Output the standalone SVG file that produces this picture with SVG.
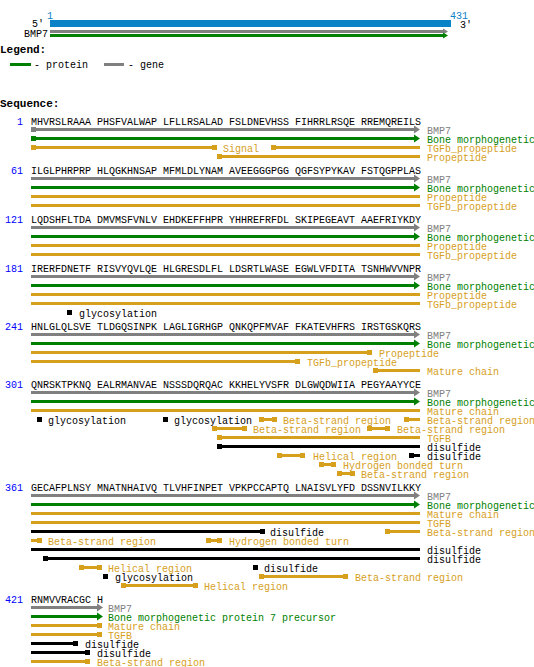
<svg xmlns="http://www.w3.org/2000/svg" xmlns:xlink="http://www.w3.org/1999/xlink" width="534" height="667" viewBox="0 0 534 667">
<style>
text{font-family:"Liberation Mono","DejaVu Sans Mono",monospace;font-size:10px}
.b{font-weight:bold;font-size:11px}
.num{fill:#0000ff;text-anchor:end}
.cg{fill:#808080}
.cgr{fill:#008000}
.co{fill:#d6a01c}
.ck{fill:#000}
.cb{fill:#0a82c8}
</style>
<defs>
<rect id="sq" x="0" y="-2.5" width="5" height="5"/>
<path id="arr" d="M0,-4L6,0L0,4Z"/>
<path id="arrs" d="M0,-3L5,0L0,3Z"/>
</defs>
<rect width="534" height="667" fill="#fff"/>

<g id="overview">
<rect class="cb" x="50" y="20" width="401" height="7"/>
<text class="cb" x="47" y="19">1</text>
<text class="cb" x="450" y="19">431</text>
<text x="44" y="27" text-anchor="end">5′</text>
<text x="460" y="28">3′</text>
<text x="48" y="37" text-anchor="end">BMP7</text>
<rect class="cg" x="50" y="30" width="393" height="3"/>
<use href="#arrs" x="443" y="31.5" class="cg"/>
<rect class="cgr" x="50" y="34" width="393" height="3"/>
<use href="#arrs" x="443" y="35.5" class="cgr"/>
</g>

<g id="legend">
<text class="b" x="0" y="53">Legend:</text>
<rect class="cgr" x="10" y="63" width="21" height="3"/>
<text x="34" y="68">- protein</text>
<rect class="cg" x="104" y="63" width="20" height="3"/>
<text x="128" y="68">- gene</text>
<text class="b" x="0" y="107">Sequence:</text>
</g>

<g id="block-1" transform="translate(0,129.5)">
<text class="num" x="23" y="-5">1</text>
<text x="31" y="-5">MHVRSLRAAA PHSFVALWAP LFLLRSALAD FSLDNEVHSS FIHRRLRSQE RREMQREILS</text>
<rect class="cg" x="31" y="-1.5" width="383" height="3"/><use href="#sq" x="31" class="cg"/><use href="#arr" x="414" class="cg"/>
<text class="cg" x="427" y="4">BMP7</text>
<g transform="translate(0,9)"><rect class="cgr" x="31" y="-1.5" width="383" height="3"/><use href="#sq" x="31" class="cgr"/><use href="#arr" x="414" class="cgr"/>
<text class="cgr" x="427" y="4">Bone morphogenetic</text></g>
<g transform="translate(0,18)"><rect class="co" x="31" y="-1.5" width="184" height="3"/><use href="#sq" x="31" class="co"/><use href="#sq" x="212" class="co"/>
<text class="co" x="223" y="4">Signal</text>
<rect class="co" x="273" y="-1.5" width="147" height="3"/><use href="#sq" x="271" class="co"/>
<text class="co" x="427" y="4">TGFb_propeptide</text></g>
<g transform="translate(0,27)"><rect class="co" x="219" y="-1.5" width="201" height="3"/><use href="#sq" x="217" class="co"/>
<text class="co" x="427" y="4">Propeptide</text></g>
</g>

<g id="block-61" transform="translate(0,178.5)">
<text class="num" x="23" y="-5">61</text>
<text x="31" y="-5">ILGLPHRPRP HLQGKHNSAP MFMLDLYNAM AVEEGGGPGG QGFSYPYKAV FSTQGPPLAS</text>
<rect class="cg" x="31" y="-1.5" width="383" height="3"/><use href="#arr" x="414" class="cg"/>
<text class="cg" x="427" y="4">BMP7</text>
<g transform="translate(0,9)"><rect class="cgr" x="31" y="-1.5" width="383" height="3"/><use href="#arr" x="414" class="cgr"/>
<text class="cgr" x="427" y="4">Bone morphogenetic</text></g>
<g transform="translate(0,18)"><rect class="co" x="31" y="-1.5" width="389" height="3"/><text class="co" x="427" y="4">Propeptide</text></g>
<g transform="translate(0,27)"><rect class="co" x="31" y="-1.5" width="389" height="3"/><text class="co" x="427" y="4">TGFb_propeptide</text></g>
</g>

<g id="block-121" transform="translate(0,227.5)">
<text class="num" x="23" y="-5">121</text>
<text x="31" y="-5">LQDSHFLTDA DMVMSFVNLV EHDKEFFHPR YHHREFRFDL SKIPEGEAVT AAEFRIYKDY</text>
<rect class="cg" x="31" y="-1.5" width="383" height="3"/><use href="#arr" x="414" class="cg"/>
<text class="cg" x="427" y="4">BMP7</text>
<g transform="translate(0,9)"><rect class="cgr" x="31" y="-1.5" width="383" height="3"/><use href="#arr" x="414" class="cgr"/>
<text class="cgr" x="427" y="4">Bone morphogenetic</text></g>
<g transform="translate(0,18)"><rect class="co" x="31" y="-1.5" width="389" height="3"/><text class="co" x="427" y="4">Propeptide</text></g>
<g transform="translate(0,27)"><rect class="co" x="31" y="-1.5" width="389" height="3"/><text class="co" x="427" y="4">TGFb_propeptide</text></g>
</g>

<g id="block-181" transform="translate(0,276.5)">
<text class="num" x="23" y="-5">181</text>
<text x="31" y="-5">IRERFDNETF RISVYQVLQE HLGRESDLFL LDSRTLWASE EGWLVFDITA TSNHWVVNPR</text>
<rect class="cg" x="31" y="-1.5" width="383" height="3"/><use href="#arr" x="414" class="cg"/>
<text class="cg" x="427" y="4">BMP7</text>
<g transform="translate(0,9)"><rect class="cgr" x="31" y="-1.5" width="383" height="3"/><use href="#arr" x="414" class="cgr"/>
<text class="cgr" x="427" y="4">Bone morphogenetic</text></g>
<g transform="translate(0,18)"><rect class="co" x="31" y="-1.5" width="389" height="3"/><text class="co" x="427" y="4">Propeptide</text></g>
<g transform="translate(0,27)"><rect class="co" x="31" y="-1.5" width="389" height="3"/><text class="co" x="427" y="4">TGFb_propeptide</text></g>
<g transform="translate(0,36)"><use href="#sq" x="67" class="ck"/><text x="79" y="4">glycosylation</text></g>
</g>

<g id="block-241" transform="translate(0,334.5)">
<text class="num" x="23" y="-5">241</text>
<text x="31" y="-5">HNLGLQLSVE TLDGQSINPK LAGLIGRHGP QNKQPFMVAF FKATEVHFRS IRSTGSKQRS</text>
<rect class="cg" x="31" y="-1.5" width="383" height="3"/><use href="#arr" x="414" class="cg"/>
<text class="cg" x="427" y="4">BMP7</text>
<g transform="translate(0,9)"><rect class="cgr" x="31" y="-1.5" width="383" height="3"/><use href="#arr" x="414" class="cgr"/>
<text class="cgr" x="427" y="4">Bone morphogenetic</text></g>
<g transform="translate(0,18)"><rect class="co" x="31" y="-1.5" width="339" height="3"/><use href="#sq" x="367" class="co"/><text class="co" x="379" y="4">Propeptide</text></g>
<g transform="translate(0,27)"><rect class="co" x="31" y="-1.5" width="267" height="3"/><use href="#sq" x="295" class="co"/><text class="co" x="307" y="4">TGFb_propeptide</text></g>
<g transform="translate(0,36)"><rect class="co" x="375" y="-1.5" width="45" height="3"/><use href="#sq" x="373" class="co"/><text class="co" x="427" y="4">Mature chain</text></g>
</g>

<g id="block-301" transform="translate(0,392.5)">
<text class="num" x="23" y="-5">301</text>
<text x="31" y="-5">QNRSKTPKNQ EALRMANVAE NSSSDQRQAC KKHELYVSFR DLGWQDWIIA PEGYAAYYCE</text>
<rect class="cg" x="31" y="-1.5" width="383" height="3"/><use href="#arr" x="414" class="cg"/>
<text class="cg" x="427" y="4">BMP7</text>
<g transform="translate(0,9)"><rect class="cgr" x="31" y="-1.5" width="383" height="3"/><use href="#arr" x="414" class="cgr"/>
<text class="cgr" x="427" y="4">Bone morphogenetic</text></g>
<g transform="translate(0,18)"><rect class="co" x="31" y="-1.5" width="389" height="3"/><text class="co" x="427" y="4">Mature chain</text></g>
<g transform="translate(0,27)">
<use href="#sq" x="37" class="ck"/><text x="48" y="4">glycosylation</text>
<use href="#sq" x="163" class="ck"/><text x="174" y="4">glycosylation</text>
<rect class="co" x="261" y="-1.5" width="13" height="3"/><use href="#sq" x="259" class="co"/><use href="#sq" x="272" class="co"/><text class="co" x="283" y="4">Beta-strand region</text>
<rect class="co" x="406" y="-1.5" width="14" height="3"/><use href="#sq" x="404" class="co"/><text class="co" x="427" y="4">Beta-strand region</text>
</g>
<g transform="translate(0,36)">
<rect class="co" x="214" y="-1.5" width="30" height="3"/><use href="#sq" x="212" class="co"/><use href="#sq" x="242" class="co"/><text class="co" x="253" y="4">Beta-strand region</text>
<rect class="co" x="369" y="-1.5" width="18" height="3"/><use href="#sq" x="367" class="co"/><use href="#sq" x="385" class="co"/><text class="co" x="397" y="4">Beta-strand region</text>
</g>
<g transform="translate(0,45)"><rect class="co" x="219" y="-1.5" width="201" height="3"/><use href="#sq" x="217" class="co"/><text class="co" x="427" y="4">TGFB</text></g>
<g transform="translate(0,54)"><rect class="ck" x="219" y="-1.5" width="201" height="3"/><use href="#sq" x="217" class="ck"/><text x="427" y="4">disulfide</text></g>
<g transform="translate(0,63)">
<rect class="co" x="279" y="-1.5" width="23" height="3"/><use href="#sq" x="277" class="co"/><use href="#sq" x="300" class="co"/><text class="co" x="313" y="4">Helical region</text>
<rect class="ck" x="411" y="-1.5" width="9" height="3"/><use href="#sq" x="409" class="ck"/><text x="427" y="4">disulfide</text>
</g>
<g transform="translate(0,72)"><rect class="co" x="321" y="-1.5" width="12" height="3"/><use href="#sq" x="319" class="co"/><use href="#sq" x="331" class="co"/><text class="co" x="343" y="4">Hydrogen bonded turn</text></g>
<g transform="translate(0,81)"><rect class="co" x="339" y="-1.5" width="13" height="3"/><use href="#sq" x="337" class="co"/><use href="#sq" x="350" class="co"/><text class="co" x="361" y="4">Beta-strand region</text></g>
</g>

<g id="block-361" transform="translate(0,495.5)">
<text class="num" x="23" y="-5">361</text>
<text x="31" y="-5">GECAFPLNSY MNATNHAIVQ TLVHFINPET VPKPCCAPTQ LNAISVLYFD DSSNVILKKY</text>
<rect class="cg" x="31" y="-1.5" width="383" height="3"/><use href="#arr" x="414" class="cg"/>
<text class="cg" x="427" y="4">BMP7</text>
<g transform="translate(0,9)"><rect class="cgr" x="31" y="-1.5" width="383" height="3"/><use href="#arr" x="414" class="cgr"/>
<text class="cgr" x="427" y="4">Bone morphogenetic</text></g>
<g transform="translate(0,18)"><rect class="co" x="31" y="-1.5" width="389" height="3"/><text class="co" x="427" y="4">Mature chain</text></g>
<g transform="translate(0,27)"><rect class="co" x="31" y="-1.5" width="389" height="3"/><text class="co" x="427" y="4">TGFB</text></g>
<g transform="translate(0,36)">
<rect class="ck" x="31" y="-1.5" width="231" height="3"/><use href="#sq" x="260" class="ck"/><text x="270" y="4">disulfide</text>
<rect class="co" x="387" y="-1.5" width="33" height="3"/><use href="#sq" x="385" class="co"/><text class="co" x="427" y="4">Beta-strand region</text>
</g>
<g transform="translate(0,45)">
<rect class="co" x="31" y="-1.5" width="8" height="3"/><use href="#sq" x="37" class="co"/><text class="co" x="48" y="4">Beta-strand region</text>
<rect class="co" x="208" y="-1.5" width="11" height="3"/><use href="#sq" x="206" class="co"/><use href="#sq" x="217" class="co"/><text class="co" x="229" y="4">Hydrogen bonded turn</text>
</g>
<g transform="translate(0,54)"><rect class="ck" x="31" y="-1.5" width="389" height="3"/><text x="427" y="4">disulfide</text></g>
<g transform="translate(0,63)"><rect class="ck" x="45" y="-1.5" width="375" height="3"/><use href="#sq" x="43" class="ck"/><text x="427" y="4">disulfide</text></g>
<g transform="translate(0,72)">
<rect class="co" x="81" y="-1.5" width="18" height="3"/><use href="#sq" x="79" class="co"/><use href="#sq" x="97" class="co"/><text class="co" x="108" y="4">Helical region</text>
<use href="#sq" x="253" class="ck"/><text x="264" y="4">disulfide</text>
</g>
<g transform="translate(0,81)">
<use href="#sq" x="103" class="ck"/><text x="115" y="4">glycosylation</text>
<rect class="co" x="261" y="-1.5" width="84" height="3"/><use href="#sq" x="259" class="co"/><use href="#sq" x="343" class="co"/><text class="co" x="355" y="4">Beta-strand region</text>
</g>
<g transform="translate(0,90)"><rect class="co" x="123" y="-1.5" width="72" height="3"/><use href="#sq" x="121" class="co"/><use href="#sq" x="193" class="co"/><text class="co" x="204" y="4">Helical region</text></g>
</g>

<g id="block-421" transform="translate(0,607.5)">
<text class="num" x="23" y="-5">421</text>
<text x="31" y="-5">RNMVVRACGC H</text>
<rect class="cg" x="31" y="-1.5" width="66" height="3"/><use href="#arr" x="97" class="cg"/>
<text class="cg" x="108" y="4">BMP7</text>
<g transform="translate(0,9)"><rect class="cgr" x="31" y="-1.5" width="66" height="3"/><use href="#arr" x="97" class="cgr"/>
<text class="cgr" x="108" y="4">Bone morphogenetic protein 7 precursor</text></g>
<g transform="translate(0,18)"><rect class="co" x="31" y="-1.5" width="68" height="3"/><use href="#sq" x="97" class="co"/><text class="co" x="108" y="4">Mature chain</text></g>
<g transform="translate(0,27)"><rect class="co" x="31" y="-1.5" width="68" height="3"/><use href="#sq" x="97" class="co"/><text class="co" x="108" y="4">TGFB</text></g>
<g transform="translate(0,36)"><rect class="ck" x="31" y="-1.5" width="44" height="3"/><use href="#sq" x="73" class="ck"/><text x="85" y="4">disulfide</text></g>
<g transform="translate(0,45)"><rect class="ck" x="31" y="-1.5" width="56" height="3"/><use href="#sq" x="85" class="ck"/><text x="97" y="4">disulfide</text></g>
<g transform="translate(0,54)"><rect class="co" x="31" y="-1.5" width="56" height="3"/><use href="#sq" x="85" class="co"/><text class="co" x="97" y="4">Beta-strand region</text></g>
</g>
</svg>
